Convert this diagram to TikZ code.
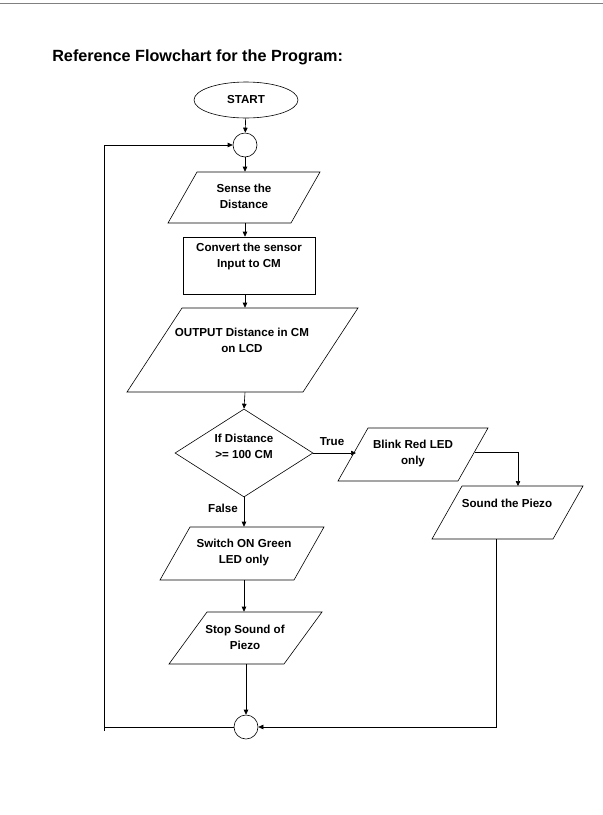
\documentclass[tikz,border=0pt]{standalone}
\usepackage{fontspec}
\setmainfont{Liberation Sans}
\usetikzlibrary{arrows.meta,shapes.geometric}

% input/output box: name, top y, bottom y, top-left x, bottom-left x, width
\newcommand{\iobox}[6]{%
  \draw (#4,#2) -- ++(#6,0) -- (#5+#6,#3) -- (#5,#3) -- cycle;
  \path ({(#5+#4+#6)/2},{(#2+#3)/2}) node [minimum width={(#4+#6-#5)*1pt},
    minimum height={(#3-#2)*1pt}, inner sep=0pt] (#1) {};
}

\tikzset{
  txt/.style = {font=\fontsize{11.6}{16}\selectfont\bfseries, align=center},
  flow/.style = {-{Triangle[length=5pt,width=4.5pt]}},
  joint/.style = {draw, circle, minimum size=24pt, inner sep=0pt}
}

\begin{document}
\begin{tikzpicture}[x=1pt, y=-1pt, line width=0.6pt]
\useasboundingbox (0,0) rectangle (603,815);
\draw [gray, line width=1pt] (0,3) -- (603,3);
\node [anchor=west, inner sep=0pt, font=\fontsize{16.2}{18}\selectfont\bfseries] (title) at (52,57) {Reference Flowchart for the Program:};

\node [draw, ellipse, minimum width=104pt, minimum height=36pt, txt] (start) at (246,100) {START};
\node [joint] (top) at (245,145) {};
\iobox{sense}{172}{223}{197}{168}{123}
\node [txt] (sensetxt) at (244,196) {Sense the\\Distance};
\node [draw, minimum width=132pt, minimum height=57pt, inner sep=0pt] (conv) at (249,265.5) {};
\node [txt] (convtxt) at (249,256) {Convert the sensor\\Input to CM};
\iobox{output}{308}{392}{182}{127}{176}
\node [txt] (outputtxt) at (242,340) {OUTPUT Distance in CM\\on LCD};
\node [draw, diamond, aspect=1.57, minimum width=138pt, minimum height=88pt, inner sep=0pt] (dia) at (244,453) {};
\node [txt] (diatxt) at (244,446) {If Distance\\>= 100 CM};
\iobox{blink}{428}{481}{368}{338}{120}
\node [txt] (blinktxt) at (413,453) {Blink Red LED\\only};
\iobox{sound}{486}{539}{462}{432}{121}
\node [txt] (soundtxt) at (507,503) {Sound the Piezo};
\iobox{switch}{527}{580}{190}{160}{134}
\node [txt] (switchtxt) at (244,552) {Switch ON Green\\LED only};
\iobox{stop}{612}{664}{207}{169}{115}
\node [txt] (stoptxt) at (245,637) {Stop Sound of\\Piezo};
\node [joint] (bot) at (246,727) {};

\node [txt] (truetxt) at (332,442) {True};
\node [txt] (falsetxt) at (223,508) {False};

\coordinate (blinkin) at (356,453);
\coordinate (blinkout) at (475,452);
\coordinate (soundout) at (496,539);
\coordinate (loopfoot) at (104,727);

\draw [flow] (start) -- (top);
\draw [flow] (top.south) -- (top.south |- sense.north);
\draw [flow] (sense.south -| top) -- (top |- conv.north);
\draw [flow] (conv.south -| top) -- (top |- output.north);
\draw [flow] (output.south -| top) -- (dia.north);
\draw [flow] (dia.east) -- (blinkin);
\draw [flow] (blinkout) -| (518,486);
\draw [flow] (dia.south) -- (dia.south |- switch.north);
\draw [flow] (switch.south -| dia) -- (dia |- stop.north);
\draw [flow] (stop.south -| bot) -- (bot.north);
\draw [flow] (soundout) |- (bot.east);
\draw (bot.west) -- (loopfoot);
\draw [flow] (104,731) |- (top.west);
\end{tikzpicture}
\end{document}
